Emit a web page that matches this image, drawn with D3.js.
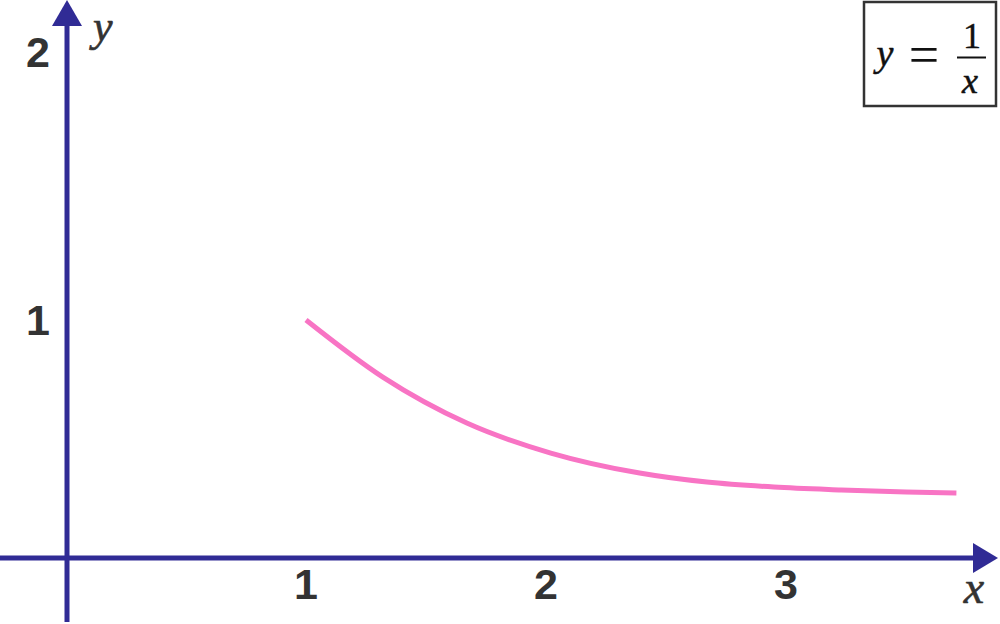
<!DOCTYPE html>
<html>
<head>
<meta charset="utf-8">
<script src="https://cdn.jsdelivr.net/npm/d3@7"></script>
<style>
  html, body { margin: 0; padding: 0; background: #fff; }
  svg { display: block; }
</style>
</head>
<body>
<svg id="chart" width="1000" height="624"></svg>
<script>
// curve points (x, y)
var curveX = [1.00, 1.32, 1.67, 2.02, 2.39, 2.67, 2.95, 3.23, 3.50, 3.71];
var curveY = [1.00, 0.76, 0.567, 0.441, 0.357, 0.319, 0.298, 0.286, 0.277, 0.273];

var xTicks = [1, 2, 3];
var yTicks = [1, 2];

var axisColor = '#302b95';
var curveColor = '#f874c4';
var textColor = '#333333';

var svg = d3.select('#chart');

var x = d3.scaleLinear().domain([0, 3]).range([66, 786]);
// the "2" label sits higher than a straight scale would put it
var y = d3.scaleLinear().domain([0, 1, 2]).range([558, 320, 52]);

// axes
svg.append('line')
	.attr('x1', 0).attr('x2', 975)
	.attr('y1', y(0)).attr('y2', y(0))
	.attr('stroke', axisColor).attr('stroke-width', 5);

svg.append('line')
	.attr('x1', x(0) + 1).attr('x2', x(0) + 1)
	.attr('y1', 622).attr('y2', 24)
	.attr('stroke', axisColor).attr('stroke-width', 5);

// arrow heads
svg.append('path')
	.attr('d', 'M973,' + (y(0) - 15) + 'L998,' + y(0) + 'L973,' + (y(0) + 15) + 'Z')
	.attr('fill', axisColor);

svg.append('path')
	.attr('d', 'M' + (x(0) - 14) + ',26L' + (x(0) + 1) + ',0L' + (x(0) + 16) + ',26Z')
	.attr('fill', axisColor);

// tick labels
svg.selectAll('.xlab')
	.data(xTicks)
	.enter()
	.append('text')
	.attr('class', 'xlab')
	.attr('x', function(d) { return x(d); })
	.attr('y', 599)
	.attr('text-anchor', 'middle')
	.attr('font-family', 'Liberation Sans, Arial, sans-serif')
	.attr('font-weight', 'bold')
	.attr('font-size', 43)
	.attr('fill', textColor)
	.text(function(d) { return d; });

svg.selectAll('.ylab')
	.data(yTicks)
	.enter()
	.append('text')
	.attr('class', 'ylab')
	.attr('x', 38)
	.attr('y', function(d) { return y(d) + 15; })
	.attr('text-anchor', 'middle')
	.attr('font-family', 'Liberation Sans, Arial, sans-serif')
	.attr('font-weight', 'bold')
	.attr('font-size', 43)
	.attr('fill', textColor)
	.text(function(d) { return d; });

// axis names
svg.append('text')
	.attr('x', 93).attr('y', 41)
	.attr('font-family', 'Liberation Serif, serif')
	.attr('font-style', 'italic')
	.attr('font-size', 44)
	.attr('fill', textColor)
	.attr('stroke', textColor).attr('stroke-width', 0.6)
	.text('y');

svg.append('text')
	.attr('x', 974).attr('y', 603)
	.attr('text-anchor', 'middle')
	.attr('font-family', 'Liberation Serif, serif')
	.attr('font-style', 'italic')
	.attr('font-size', 46)
	.attr('fill', textColor)
	.attr('stroke', textColor).attr('stroke-width', 0.6)
	.text('x');

// the curve
var line = d3.line()
	.x(function(d, i) { return x(curveX[i]); })
	.y(function(d, i) { return y(curveY[i]); })
	.curve(d3.curveMonotoneX);

svg.append('path')
	.datum(curveX)
	.attr('d', line)
	.attr('fill', 'none')
	.attr('stroke', curveColor)
	.attr('stroke-width', 5);

// formula box
var box = svg.append('g');
box.append('rect')
	.attr('x', 864).attr('y', 2)
	.attr('width', 132).attr('height', 104)
	.attr('fill', '#fff')
	.attr('stroke', textColor)
	.attr('stroke-width', 2.5);

box.append('text')
	.attr('x', 885).attr('y', 66)
	.attr('text-anchor', 'middle')
	.attr('font-family', 'Liberation Serif, serif')
	.attr('font-style', 'italic')
	.attr('font-size', 38)
	.attr('fill', '#111')
	.attr('stroke', '#111').attr('stroke-width', 0.5)
	.text('y');

box.append('text')
	.attr('x', 924).attr('y', 73)
	.attr('text-anchor', 'middle')
	.attr('font-family', 'Liberation Serif, serif')
	.attr('font-size', 54)
	.attr('fill', '#111')
	.text('=');

box.append('text')
	.attr('x', 972).attr('y', 48)
	.attr('text-anchor', 'middle')
	.attr('font-family', 'Liberation Serif, serif')
	.attr('font-size', 36)
	.attr('fill', '#111')
	.attr('stroke', '#111').attr('stroke-width', 0.4)
	.text('1');

box.append('line')
	.attr('x1', 957).attr('x2', 986)
	.attr('y1', 57.5).attr('y2', 57.5)
	.attr('stroke', '#111').attr('stroke-width', 2);

box.append('text')
	.attr('x', 970).attr('y', 93)
	.attr('text-anchor', 'middle')
	.attr('font-family', 'Liberation Serif, serif')
	.attr('font-style', 'italic')
	.attr('font-size', 36)
	.attr('fill', '#111')
	.attr('stroke', '#111').attr('stroke-width', 0.5)
	.text('x');
</script>
</body>
</html>
